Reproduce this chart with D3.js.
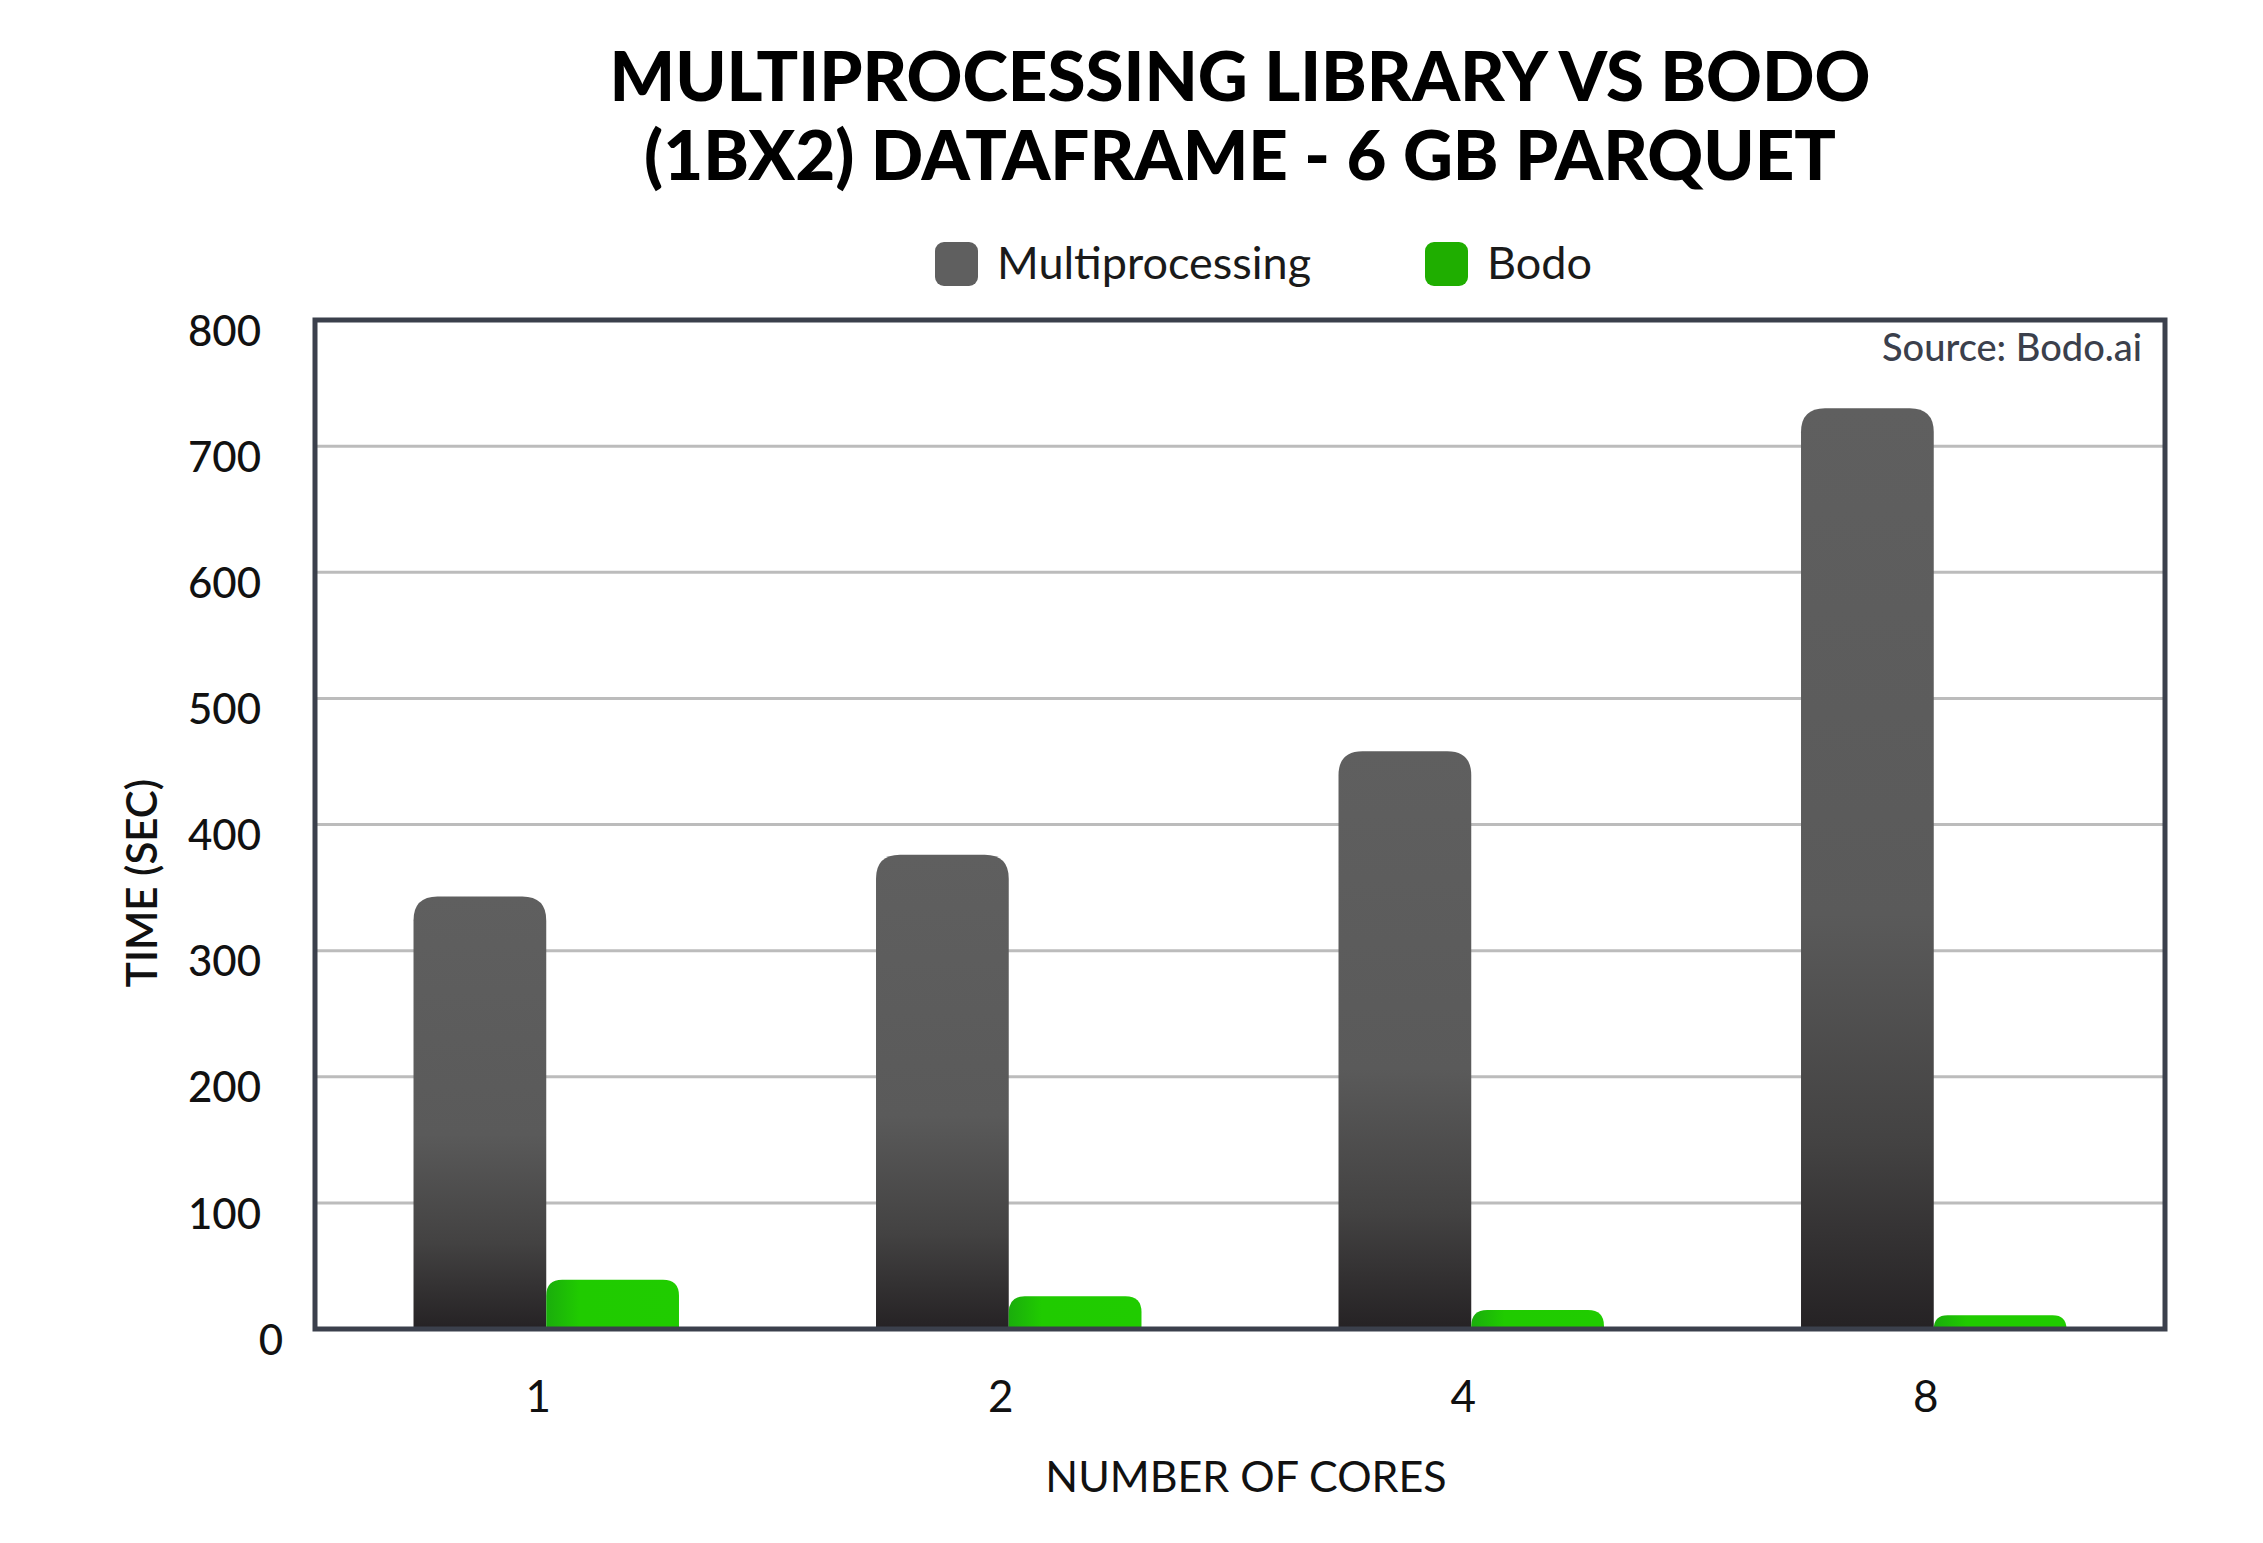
<!DOCTYPE html>
<html>
<head>
<meta charset="utf-8">
<script src="https://cdn.jsdelivr.net/npm/d3@7"></script>
<style>
  body { margin: 0; background: #fff; }
  text { font-family: "Lato", "Open Sans", sans-serif; }
</style>
</head>
<body>
<div id="chart"></div>
<script>
// data
const cores = ["1", "2", "4", "8"];
const seriesNames = ["Multiprocessing", "Bodo"];
const multiprocessing = [343, 376, 458, 730];
const bodo = [39, 26, 15, 11];
const yTicks = [0, 100, 200, 300, 400, 500, 600, 700, 800];

const W = 2263, H = 1543;
const margin = {top: 320, right: 98, bottom: 214, left: 315};
const width = W - margin.left - margin.right,
      height = H - margin.top - margin.bottom;

const svg = d3.select("#chart").append("svg")
    .attr("width", W).attr("height", H);

const defs = svg.append("defs");
const gGray = defs.append("linearGradient").attr("id", "grayGrad")
    .attr("x1", 0).attr("y1", 0).attr("x2", 0).attr("y2", 1);
gGray.append("stop").attr("offset", "0%").attr("stop-color", "#5f5f5f");
gGray.append("stop").attr("offset", "55%").attr("stop-color", "#5a5a5a");
gGray.append("stop").attr("offset", "80%").attr("stop-color", "#434242");
gGray.append("stop").attr("offset", "100%").attr("stop-color", "#252224");

const gGreen = defs.append("linearGradient").attr("id", "greenGrad")
    .attr("x1", 0).attr("y1", 0).attr("x2", 1).attr("y2", 0);
gGreen.append("stop").attr("offset", "0%").attr("stop-color", "#1aad0c");
gGreen.append("stop").attr("offset", "25%").attr("stop-color", "#20cb00");
gGreen.append("stop").attr("offset", "100%").attr("stop-color", "#20cc00");

const g = svg.append("g")
    .attr("transform", "translate(" + margin.left + "," + margin.top + ")");

const x0 = d3.scaleBand().domain(cores).range([0, width]).padding(0);
const half = x0.bandwidth() * 0.287;
const x1 = d3.scaleBand().domain(seriesNames).range([-half, half]).padding(0);
const y = d3.scaleLinear().domain([0, 800]).range([height, 0]);

// gridlines
g.selectAll(".grid").data(yTicks.filter(d => d > 0 && d < 800)).enter()
    .append("line")
    .attr("x1", 0).attr("x2", width)
    .attr("y1", d => y(d)).attr("y2", d => y(d))
    .attr("stroke", "#bcbcbc").attr("stroke-width", 3);

// bars with rounded tops
function topRounded(x, yTop, w, h, r) {
    r = Math.min(r, h, w / 2);
    return "M" + x + "," + (yTop + h) +
        "V" + (yTop + r) +
        "Q" + x + "," + yTop + " " + (x + r) + "," + yTop +
        "H" + (x + w - r) +
        "Q" + (x + w) + "," + yTop + " " + (x + w) + "," + (yTop + r) +
        "V" + (yTop + h) + "Z";
}

const rows = cores.map((c, i) => ({core: c, values: [
    {name: "Multiprocessing", v: multiprocessing[i]},
    {name: "Bodo", v: bodo[i]}
]}));

const groups = g.selectAll(".grp").data(rows).enter().append("g")
    .attr("transform", d => "translate(" + (x0(d.core) + x0.bandwidth() / 2) + ",0)");

groups.selectAll("path").data(d => d.values).enter().append("path")
    .attr("d", d => topRounded(x1(d.name), y(d.v), x1.bandwidth(), height - y(d.v),
        d.name === "Bodo" ? 16 : 24))
    .attr("fill", d => d.name === "Bodo" ? "url(#greenGrad)" : "url(#grayGrad)");

// frame
g.append("rect")
    .attr("x", 0).attr("y", 0).attr("width", width).attr("height", height)
    .attr("fill", "none").attr("stroke", "#3b404c").attr("stroke-width", 5);

// y axis
const yAxis = g.append("g").call(d3.axisLeft(y).tickValues(yTicks).tickSize(0).tickPadding(54));
yAxis.select(".domain").remove();
yAxis.selectAll("text")
    .attr("dy", "0.6em")
    .attr("dx", d => d === 0 ? 22 : 0)
    .style("font-family", "Lato").style("font-size", "42px")
    .style("font-weight", 500).attr("fill", "#111");

// x axis
const xAxis = g.append("g").attr("transform", "translate(0," + height + ")")
    .call(d3.axisBottom(x0).tickSize(0).tickPadding(52));
xAxis.select(".domain").remove();
xAxis.selectAll("text")
    .attr("dx", "-8")
    .style("font-family", "Lato").style("font-size", "44px").attr("fill", "#111");

// axis titles
svg.append("text")
    .attr("transform", "translate(157," + 883 + ") rotate(-90)")
    .attr("text-anchor", "middle")
    .style("font-size", "42px").style("font-weight", 600).attr("fill", "#111")
    .text("TIME (SEC)");

svg.append("text")
    .attr("x", 1246).attr("y", 1492)
    .attr("text-anchor", "middle")
    .style("font-size", "43px").attr("fill", "#111")
    .text("NUMBER OF CORES");

// title
const title = svg.append("text").attr("text-anchor", "middle")
    .style("font-size", "69px").style("font-weight", 900).attr("fill", "#000");
title.append("tspan").attr("x", margin.left + width / 2).attr("y", 101)
    .text("MULTIPROCESSING LIBRARY VS BODO");
title.append("tspan").attr("x", margin.left + width / 2).attr("y", 180)
    .text("(1BX2) DATAFRAME - 6 GB PARQUET");

// legend
const legendX = [935, 1425];
const legendColors = ["#5f5f5f", "#1fae00"];
const leg = svg.selectAll(".leg").data(seriesNames).enter().append("g")
    .attr("transform", (d, i) => "translate(" + legendX[i] + ",242)");
leg.append("rect").attr("width", 43).attr("height", 44).attr("rx", 9)
    .attr("fill", (d, i) => legendColors[i]);
leg.append("text").attr("x", 62).attr("y", 37)
    .style("font-size", "45px").attr("fill", "#1a1a1a")
    .text(d => d);

// source note
svg.append("text")
    .attr("x", 2142).attr("y", 361).attr("text-anchor", "end")
    .style("font-size", "38px").style("font-weight", 500).attr("fill", "#3b404c")
    .text("Source: Bodo.ai");
</script>
</body>
</html>
